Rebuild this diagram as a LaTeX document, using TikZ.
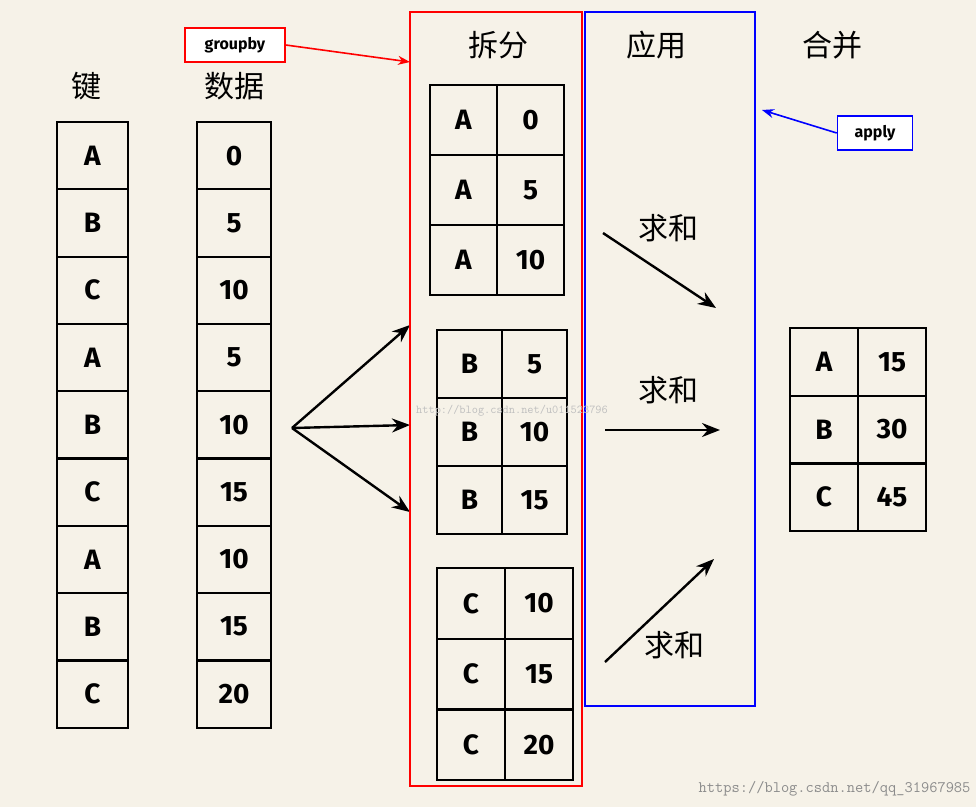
\documentclass[tikz,border=0pt]{standalone}
\usepackage{fontspec}
\setmainfont{Noto Sans CJK SC}
\newfontfamily\cellfont{Fira Sans}
\usetikzlibrary{arrows.meta}
\definecolor{paper}{HTML}{F6F2E8}
\tikzset{
  cell/.style={draw, line width=2.2pt, minimum width=#1, inner sep=0pt, font=\cellfont\fontsize{28}{28}\selectfont\bfseries},
  lab/.style={font=\fontsize{30}{30}\selectfont},
  garrow/.style={line width=2.4pt, -{Stealth[length=18pt,width=14pt]}},
  callout/.style={draw=#1, line width=1.6pt, fill=white, font=\cellfont\bfseries\fontsize{16}{16}\selectfont, minimum height=34pt, minimum width=#1!!, inner xsep=8pt},
  callout/.style 2 args={draw=#1, line width=1.6pt, fill=white, font=\cellfont\bfseries\fontsize{16}{16}\selectfont, minimum height=34pt, minimum width=#2, inner xsep=6pt}
}
\begin{document}
\begin{tikzpicture}[x=1pt,y=-1pt]
\fill[paper] (0,0) rectangle (976,807);
\useasboundingbox (0,0) rectangle (976,807);
\def\rh{67.3}
\foreach \k [count=\i] in {A,B,C,A,B,C,A,B,C}
  \node[cell=71pt, minimum height=\rh pt] (k\i) at (92.5,{122+(\i-0.5)*\rh}) {\k};
\foreach \d [count=\i] in {0,5,10,5,10,15,10,15,20}
  \node[cell=74pt, minimum height=\rh pt] (d\i) at (234,{122+(\i-0.5)*\rh}) {\d};
\node[lab] (hk) at (86,86) {键};
\node[lab] (hd) at (234,86) {数据};
\coordinate (src) at (292,428);
\coordinate (t1) at (410,325);
\coordinate (t2) at (410,425);
\coordinate (t3) at (410,512);
\foreach \t in {t1,t2,t3} \draw[garrow] (src) -- (\t);
\node[draw=red, line width=2.2pt, minimum width=172pt, minimum height=774pt, inner sep=0pt] (split) at (496,399) {};
\node[draw=blue, line width=2.2pt, minimum width=170pt, minimum height=694pt, inner sep=0pt] (apply) at (670,359) {};
\node[lab] (hs) at (498,45) {拆分};
\node[lab] (ha) at (656,45) {应用};
\node[lab] (hm) at (832,45) {合并};
\foreach \L/\R/\cx/\y/\w/\hh [count=\i] in {
  A/0/463.5/85/67/70, A/5/463.5/155/67/70, A/10/463.5/225/67/70,
  B/5/469.5/330/65/68, B/10/469.5/398/65/68, B/15/469.5/466/65/68,
  C/10/471/568/68/70.7, C/15/471/638.7/68/70.7, C/20/471/709.4/68/70.7}{
  \node[cell=\w pt, minimum height=\hh pt] (gl\i) at (\cx,{\y+\hh/2}) {\L};
  \node[cell=\w pt, minimum height=\hh pt, anchor=west, xshift=-2.2pt] (gr\i) at (gl\i.east) {\R};
}
\coordinate (a1s) at (603,233); \coordinate (a1e) at (716,308);
\coordinate (a2s) at (605,430); \coordinate (a2e) at (720,430);
\coordinate (a3s) at (605,662); \coordinate (a3e) at (714,559);
\draw[garrow] (a1s) -- (a1e);
\draw[garrow] (a2s) -- (a2e);
\draw[garrow] (a3s) -- (a3e);
\node[lab] (s1) at (668,228) {求和};
\node[lab] (s2) at (668,390) {求和};
\node[lab] (s3) at (674,645) {求和};
\foreach \L/\R [count=\i] in {A/15,B/30,C/45}{
  \node[cell=68pt, minimum height=67.7pt] (rl\i) at (824,{328+(\i-0.5)*67.7}) {\L};
  \node[cell=68pt, minimum height=67.7pt, anchor=west, xshift=-2.2pt] (rr\i) at (rl\i.east) {\R};
}
\node[callout={red}{100pt}] (gb) at (235,45) {groupby};
\coordinate (gbt) at (410,62);
\draw[red, line width=1.6pt, -{Stealth[length=12pt,width=9pt]}] (gb.east) -- (gbt);
\node[callout={blue}{75pt}] (ap) at (875,133) {apply};
\coordinate (apt) at (762,110);
\draw[blue, line width=1.6pt, -{Stealth[length=12pt,width=9pt]}] (ap.west) -- (apt);
\node[text=black!25, font=\ttfamily\fontsize{12}{12}\selectfont] (wm1) at (512,411) {http://blog.csdn.net/u011523796};
\node[text=black!45, font=\ttfamily\fontsize{16}{16}\selectfont, anchor=east] (wm2) at (974,789) {https://blog.csdn.net/qq\_31967985};
\end{tikzpicture}
\end{document}
